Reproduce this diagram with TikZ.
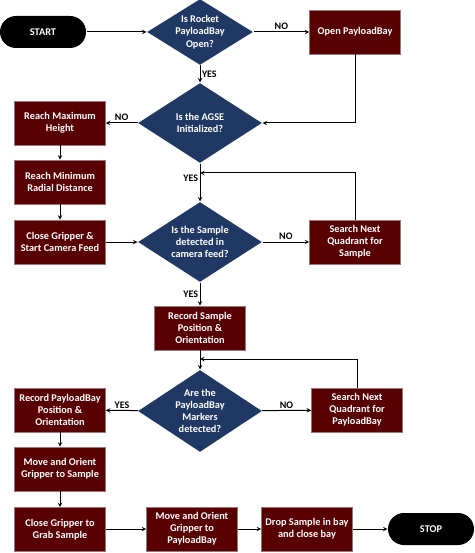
\documentclass[tikz,border=0pt]{standalone}
\usepackage{fontspec}
\setmainfont{Carlito}
\usetikzlibrary{shapes.geometric,arrows}
\definecolor{boxred}{RGB}{88,0,2}
\definecolor{boxedge}{RGB}{150,120,120}
\definecolor{decblue}{RGB}{31,56,100}
\tikzset{
  stepbox/.style={rectangle, fill=boxred, draw=boxedge, line width=0.6pt, text=white,
    minimum width=91pt, minimum height=44pt, inner sep=1pt, align=center,
    font=\fontsize{10.3}{12}\selectfont\bfseries},
  decision/.style={diamond, fill=decblue, text=white, minimum width=124pt,
    minimum height=80pt, inner sep=-6pt, align=center,
    font=\fontsize{10.3}{12.2}\selectfont\bfseries},
  terminal/.style={rectangle, rounded corners=16pt, fill=black, text=white,
    minimum width=86pt, minimum height=32pt, font=\fontsize{10.3}{12}\selectfont\bfseries},
  lab/.style={font=\fontsize{10}{12}\selectfont\bfseries, inner sep=1.5pt}
}
\begin{document}
\begin{tikzpicture}[x=1pt, y=-1pt, >=stealth, line width=1pt]
  \useasboundingbox (0,0) rectangle (474,553);
  % top row
  \node[terminal] (start) at (43,32) {START};
  \node[decision, minimum height=66pt, minimum width=106pt] (rocket) at (200,32) {Is Rocket\\PayloadBay\\Open?};
  \node[stepbox] (openbay) at (355,32) {Open PayloadBay};
  % AGSE check
  \node[decision] (agse) at (200,123) {Is the AGSE\\Initialized?};
  \node[stepbox] (maxh) at (60,123) {Reach Maximum\\Height};
  \node[stepbox] (minr) at (60,182) {Reach Minimum\\Radial Distance};
  \node[stepbox] (camfeed) at (60,242) {Close Gripper \&\\Start Camera Feed};
  % sample search
  \node[decision] (sample) at (200,242) {Is the Sample\\detected in\\camera feed?};
  \node[stepbox] (searchs) at (355,242) {Search Next\\Quadrant for\\Sample};
  \node[stepbox] (recs) at (200,328) {Record Sample\\Position \&\\Orientation};
  % payloadbay search
  \node[decision, minimum height=82pt] (markers) at (200,411) {Are the\\PayloadBay\\Markers\\detected?};
  \node[stepbox] (searchp) at (357,410) {Search Next\\Quadrant for\\PayloadBay};
  \node[stepbox] (recp) at (60,410) {Record PayloadBay\\Position \&\\Orientation};
  \node[stepbox] (moves) at (60,469) {Move and Orient\\Gripper to Sample};
  % bottom row
  \node[stepbox] (grab) at (60,529.5) {Close Gripper to\\Grab Sample};
  \node[stepbox] (movep) at (192,529) {Move and Orient\\Gripper to\\PayloadBay};
  \node[stepbox] (drop) at (307,529) {Drop Sample in bay\\and close bay};
  \node[terminal] (stop) at (431,529) {STOP};
  \coordinate (loopa) at (200,173);
  \coordinate (loopb) at (200,359);

  \draw[->] (start) -- (rocket);
  \draw[->] (rocket) -- node[lab, above] {NO} (openbay);
  \draw[->] (rocket) -- node[lab, right] {YES} (agse);
  \draw[->] (openbay) |- (agse);
  \draw[->] (agse) -- node[lab, above] {NO} (maxh);
  \draw[->] (maxh) -- (minr);
  \draw[->] (minr) -- (camfeed);
  \draw[->] (camfeed) -- (sample);
  \draw[->] (agse) -- node[lab, left, pos=0.4] {YES} (sample);
  \draw[->] (searchs) |- (loopa);
  \draw[->] (sample) -- node[lab, above] {NO} (searchs);
  \draw[->] (sample) -- node[lab, left] {YES} (recs);
  \draw[->] (recs) -- (markers);
  \draw[->] (searchp) |- (loopb);
  \draw[->] (markers) -- node[lab, above] {YES} (recp);
  \draw[->] (markers) -- node[lab, above] {NO} (searchp);
  \draw[->] (recp) -- (moves);
  \draw[->] (moves) -- (grab);
  \draw[->] (grab.east |- movep) -- (movep);
  \draw[->] (movep) -- (drop);
  \draw[->] (drop) -- (stop);
\end{tikzpicture}
\end{document}
